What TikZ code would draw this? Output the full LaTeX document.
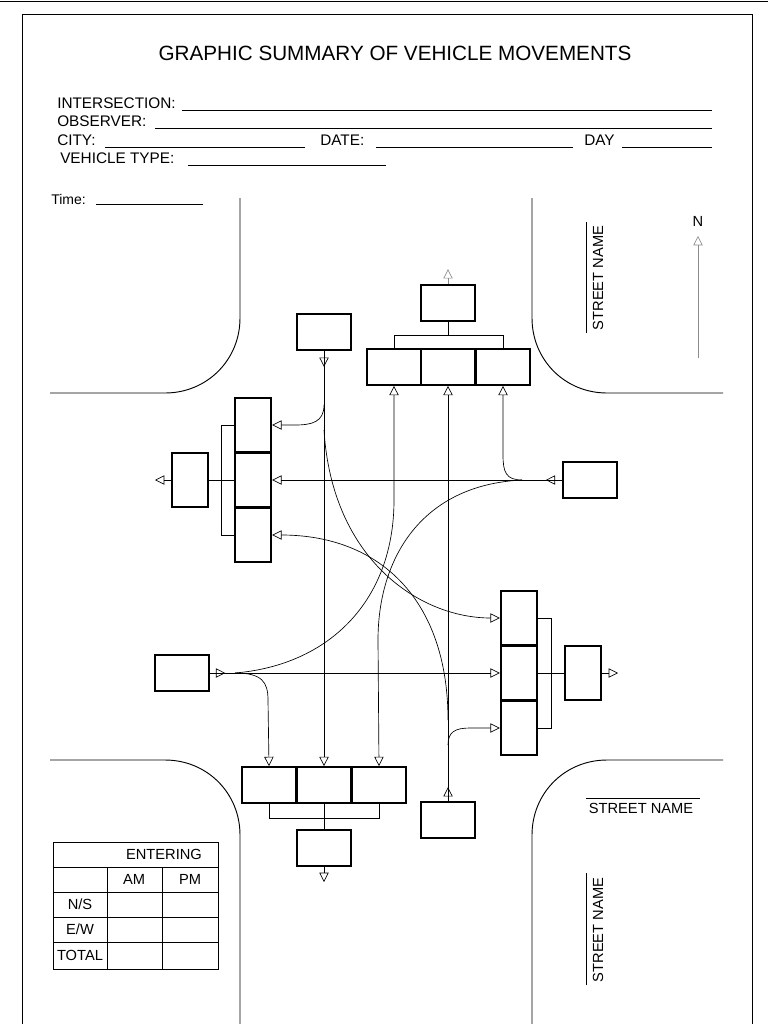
\documentclass[tikz,border=0pt]{standalone}
\usepackage{fontspec}
\setmainfont{Liberation Sans}
\usetikzlibrary{arrows.meta}

\begin{document}
\begin{tikzpicture}[x=0.75pt,y=-0.75pt,thin,>={Triangle[open,length=7pt,width=7pt]},
	box/.style={draw,line width=1.3pt,minimum width=41pt,minimum height=27pt,inner sep=0pt},
	vbox/.style={box,minimum width=27.5pt,minimum height=41pt},
	road/.style={line width=0.7pt},
	flow/.style={line width=0.5pt},
	grayflow/.style={flow,black!45},
	lbl/.style={font=\fontsize{11.5}{13}\selectfont,inner sep=0pt,anchor=west},
	cell/.style={font=\fontsize{11}{13}\selectfont,inner sep=0pt}]

	\useasboundingbox (0,0) rectangle (768,1024);
	\draw (0,1) -- (768,1);
	\draw (22,14) rectangle (752,1040);

	% heading and form
	\node[font=\fontsize{15.5}{18}\selectfont] (title) at (395,53) {GRAPHIC SUMMARY OF VEHICLE MOVEMENTS};
	\node[lbl] (inter) at (57,103) {INTERSECTION:};
	\node[lbl] (obs) at (57,121) {OBSERVER:};
	\node[lbl] (city) at (57,140) {CITY:};
	\node[lbl] (date) at (320,140) {DATE:};
	\node[lbl] (day) at (584,140) {DAY};
	\node[lbl] (vtype) at (60,158) {VEHICLE TYPE:};
	\node[lbl,font=\fontsize{10.5}{12}\selectfont] (time) at (51,199) {Time:};
	\draw (182,110) -- (712,110);
	\draw (155,128) -- (712,128);
	\draw (105,147) -- (305,147);
	\draw (376,147) -- (573,147);
	\draw (622,147) -- (712,147);
	\draw (188,165) -- (386,165);
	\draw (96,204) -- (203,204);

	% curbs
	\draw[road] (240,198) -- (240,318) .. controls (240,360) and (207,393) .. (165,393) -- (50,393);
	\draw[road] (532,198) -- (532,318) .. controls (532,360) and (565,393) .. (607,393) -- (723,393);
	\draw[road] (50,760) -- (165,760) .. controls (207,760) and (240,793) .. (240,835) -- (240,1030);
	\draw[road] (723,760) -- (607,760) .. controls (565,760) and (532,793) .. (532,835) -- (532,1030);

	% street names and north arrow
	\node[cell,rotate=90] (st1) at (598,278) {STREET NAME};
	\draw (586,222) -- (586,333);
	\node[cell,rotate=90] (st2) at (598,930) {STREET NAME};
	\draw (586,873) -- (586,985);
	\node[cell] (st3) at (641,808) {STREET NAME};
	\draw (586,798) -- (700,798);
	\node[cell] (north) at (698,221) {N};
	\coordinate (nfoot) at (698,358);
	\draw[grayflow,->] (nfoot) -- (698,236);

	% north approach
	\node[box] (nin) at (324,332) {};
	\node[box] (nout) at (448,303) {};
	\node[box] (n1) at (394,367) {};
	\node[box] (n2) at (448,367) {};
	\node[box] (n3) at (503,367) {};
	% west approach
	\node[vbox] (wout) at (190,480) {};
	\node[vbox] (w1) at (253,425) {};
	\node[vbox] (w2) at (253,480) {};
	\node[vbox] (w3) at (253,535) {};
	\node[box] (win) at (182,673) {};
	% east approach
	\node[box] (ein) at (590,480) {};
	\node[vbox] (e1) at (519,618) {};
	\node[vbox] (e2) at (519,673) {};
	\node[vbox] (e3) at (519,728) {};
	\node[vbox] (eout) at (583,673) {};
	% south approach
	\node[box] (s1) at (269,785) {};
	\node[box] (s2) at (324,785) {};
	\node[box] (s3) at (379,785) {};
	\node[box] (sout) at (324,848) {};
	\node[box] (sin) at (448,820) {};

	% brackets to exits
	\draw (nout.south) -- (448,335);
	\draw (n1.north) -- (394,335) -- (503,335) -- (n3.north);
	\draw (w1.west) -- (221,425) -- (221,535) -- (w3.west);
	\draw (w2.west) -- (wout.east);
	\draw (e1.east) -- (551,618) -- (551,728) -- (e3.east);
	\draw (e2.east) -- (eout.west);
	\draw (s1.south) -- (269,818) -- (379,818) -- (s3.south);
	\draw (s2.south) -- (sout.north);
	\draw[grayflow,->] (nout.north) -- ++(0,-15);
	\draw[flow,->] (wout.west) -- (155,480);
	\draw[flow,->] (eout.east) -- (618,673);
	\draw[flow,->] (sout.south) -- (324,882);

	% movements
	\draw[flow,->] (nin.south) -- ++(0,16);
	\draw[flow,->] (nin.south) -- (s2.north);
	\draw[flow,->] (324,405) .. controls (324,422) and (312,425) .. (295,425) -- (w1.east);
	\draw[flow,->] (324,430) .. controls (332,560) and (420,618) .. (e1.west);
	\draw[flow,->] (ein.west) -- ++(-16,0);
	\draw[flow,->] (ein.west) -- (w2.east);
	\draw[flow,->] (522,480) .. controls (506,480) and (503,472) .. (503,455) -- (n3.south);
	\draw[flow,->] (522,480) .. controls (420,485) and (378,560) .. (378,640) -- (s3.north);
	\draw[flow,->] (win.east) -- ++(15,0);
	\draw[flow,->] (win.east) -- (e2.west);
	\draw[flow,->] (235,673) .. controls (262,673) and (268,682) .. (268,700) -- (s1.north);
	\draw[flow,->] (235,673) .. controls (330,665) and (394,600) .. (394,500) -- (n1.south);
	\draw[flow,->] (sin.north) -- ++(0,-14);
	\draw[flow,->] (sin.north) -- (n2.south);
	\draw[flow,->] (448,745) .. controls (448,732) and (455,728) .. (470,728) -- (e3.west);
	\draw[flow,->] (448,720) .. controls (448,600) and (380,535) .. (w3.east);

	% count table
	\draw (53,842) rectangle (218,969);
	\foreach \y in {867,892,917,942} \draw (53,\y) -- (218,\y);
	\draw (107,867) -- (107,969);
	\draw (162,867) -- (162,969);
	\node[cell] (enter) at (164,854) {ENTERING};
	\node[cell] (am) at (134,879) {AM};
	\node[cell] (pm) at (190,879) {PM};
	\node[cell] (ns) at (80,904) {N/S};
	\node[cell] (ew) at (80,929) {E/W};
	\node[cell] (tot) at (80,955) {TOTAL};
\end{tikzpicture}
\end{document}
